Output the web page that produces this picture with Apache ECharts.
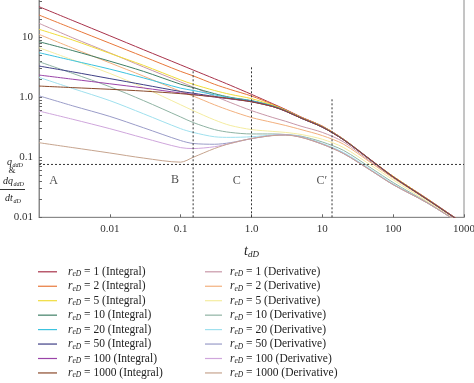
<!DOCTYPE html>
<html><head><meta charset="utf-8">
<script src="https://cdn.jsdelivr.net/npm/echarts@6/dist/echarts.min.js"></script>
<style>html,body{margin:0;padding:0;background:#fff}#c{width:474px;height:383px}</style>
</head><body><div id="c"></div>
<script>
const tGrid = [0.001, 0.003, 0.01, 0.03, 0.1, 0.15, 0.3, 0.5, 1, 2, 3, 5, 10, 20, 50, 100, 300, 1000];
const reDs = ['1', '2', '5', '10', '20', '50', '100', '1000'];
const int1    = [32.4, 19.0, 10.6, 6.2, 3.47, 2.85, 2.04, 1.59, 1.12, 0.78, 0.63, 0.47, 0.33, 0.2, 0.088, 0.048, 0.0205, 0.0078];
const int2    = [23.5, 14.0, 7.97, 4.76, 2.7, 2.28, 1.65, 1.35, 1.05, 0.76, 0.62, 0.465, 0.33, 0.2, 0.088, 0.048, 0.0205, 0.0078];
const int5    = [13.6, 9.0, 5.4, 3.4, 1.95, 1.65, 1.3, 1.12, 0.95, 0.74, 0.61, 0.46, 0.325, 0.198, 0.087, 0.048, 0.0203, 0.0077];
const int10   = [8.45, 6.0, 4.0, 2.7, 1.65, 1.45, 1.15, 1.0, 0.88, 0.72, 0.6, 0.455, 0.32, 0.197, 0.087, 0.047, 0.02, 0.0077];
const int20   = [5.54, 4.1, 2.95, 2.1, 1.42, 1.3, 1.1, 0.98, 0.87, 0.71, 0.595, 0.45, 0.32, 0.196, 0.087, 0.047, 0.02, 0.0077];
const int50   = [3.32, 2.65, 2.05, 1.62, 1.25, 1.17, 1.03, 0.95, 0.85, 0.7, 0.59, 0.45, 0.318, 0.195, 0.087, 0.047, 0.02, 0.0077];
const int100  = [2.35, 2.0, 1.68, 1.43, 1.18, 1.12, 1.01, 0.94, 0.84, 0.7, 0.59, 0.45, 0.318, 0.195, 0.087, 0.047, 0.02, 0.0077];
const int1000 = [1.54, 1.45, 1.36, 1.27, 1.15, 1.1, 1.02, 0.95, 0.84, 0.7, 0.59, 0.45, 0.318, 0.195, 0.087, 0.047, 0.02, 0.0077];
const der1    = [17.1, 9.8, 5.5, 3.2, 1.8, 1.48, 1.05, 0.82, 0.6, 0.46, 0.4, 0.33, 0.26, 0.18, 0.082, 0.046, 0.02, 0.0077];
const der2    = [11.2, 6.6, 3.75, 2.25, 1.25, 1.05, 0.75, 0.6, 0.46, 0.38, 0.34, 0.29, 0.23, 0.165, 0.079, 0.045, 0.0195, 0.0075];
const der5    = [6.71, 4.2, 2.5, 1.45, 0.75, 0.6, 0.42, 0.34, 0.29, 0.27, 0.26, 0.24, 0.2, 0.145, 0.072, 0.042, 0.0185, 0.0073];
const der10   = [3.92, 2.5, 1.5, 0.88, 0.47, 0.38, 0.29, 0.26, 0.245, 0.245, 0.24, 0.225, 0.18, 0.13, 0.065, 0.038, 0.0178, 0.0072];
const der20   = [2.15, 1.4, 0.88, 0.53, 0.3, 0.26, 0.22, 0.215, 0.22, 0.235, 0.237, 0.22, 0.17, 0.12, 0.061, 0.036, 0.0175, 0.0072];
const der50   = [1.06, 0.72, 0.48, 0.31, 0.19, 0.17, 0.165, 0.175, 0.205, 0.232, 0.236, 0.218, 0.166, 0.116, 0.059, 0.035, 0.0175, 0.0072];
const der100  = [0.59, 0.43, 0.3, 0.21, 0.145, 0.14, 0.15, 0.17, 0.205, 0.232, 0.236, 0.216, 0.165, 0.115, 0.059, 0.035, 0.0175, 0.0072];
const der1000 = [0.175, 0.145, 0.118, 0.097, 0.083, 0.1, 0.14, 0.17, 0.205, 0.23, 0.235, 0.215, 0.165, 0.115, 0.059, 0.035, 0.0175, 0.0072];
const integralSets = [int1, int2, int5, int10, int20, int50, int100, int1000];
const derivativeSets = [der1, der2, der5, der10, der20, der50, der100, der1000];
const intColors = ['#a8324a', '#e8783a', '#f0dc3a', '#3f7f66', '#3cc3df', '#3e3f86', '#9a44a8', '#8a4a2a'];
const derColors = ['#c897a8', '#f2b07e', '#f4eca0', '#8fb3a3', '#9fe0ee', '#9a9cc8', '#cfa6dc', '#c6a48e'];
// reference lines
const hLineLevel = 0.076;
const hLineT = [0.001, 1000];
const vLines = [[0.15, 2.85], [1.0, 3.24], [13.7, 0.97]];
const yMin = 0.01, yMax = 100, xMin = 0.001, xMax = 1000;
const xTickLabels = [0.01, 0.1, 1, 10, 100, 1000];
const yTickLabels = [0.01, 0.1, 1, 10, 100];
const yMinorTicks = [0.02,0.03,0.04,0.05,0.06,0.07,0.08,0.09,0.2,0.3,0.4,0.5,0.6,0.7,0.8,0.9,2,3,4,5,6,7,8,9,20,30,40,50,60,70,80,90];
const regionLabels = [['A', 0.0016, 0.04], ['B', 0.083, 0.042], ['C', 0.62, 0.04], ["C\u2032", 9.8, 0.04]];

const serif = '"Liberation Serif", "DejaVu Serif", serif';
function fmtLabel(v) { return v === 1 ? '1.0' : String(v); }

const series = [];
integralSets.forEach((arr, i) => {
  series.push({
    name: 'r_eD = ' + reDs[i] + ' (Integral)', type: 'line', showSymbol: false, smooth: 0.3,
    data: tGrid.map((t, k) => [t, arr[k]]), color: intColors[i],
    lineStyle: { width: 1, color: intColors[i] }, z: 3
  });
});
derivativeSets.forEach((arr, i) => {
  series.push({
    name: 'r_eD = ' + reDs[i] + ' (Derivative)', type: 'line', showSymbol: false, smooth: 0.3,
    data: tGrid.map((t, k) => [t, arr[k]]), color: derColors[i],
    lineStyle: { width: 1, color: derColors[i] }, z: 2
  });
});
const dashStyle = { color: '#333', width: 1, type: [2, 2] };
series.push({ name: 'hline', type: 'line', showSymbol: false, data: hLineT.map(t => [t, hLineLevel]), lineStyle: dashStyle, z: 4, silent: true });
vLines.forEach((v, i) => {
  series.push({ name: 'vline' + i, type: 'line', showSymbol: false, data: [[v[0], yMin], [v[0], v[1]]], lineStyle: dashStyle, z: 4, silent: true });
});
series.push({
  name: 'regions', type: 'scatter', symbolSize: 0, silent: true, z: 5,
  data: regionLabels.map(r => ({ value: [r[1], r[2]], label: { show: true, formatter: r[0], position: 'inside', fontFamily: serif, fontSize: 12, color: '#222' } }))
});

function legendFmt(name) {
  const m = name.match(/r_eD = (\S+) \((\w+)\)/);
  return '{r|r}{s|eD}{n| = ' + m[1] + ' (' + m[2] + ')}';
}
function makeRich(padLeft) {
  return {
    r: { fontFamily: serif, fontStyle: 'italic', fontSize: 11.5, lineHeight: 14, padding: [0, 0, 0, padLeft], color: '#222' },
    s: { fontFamily: serif, fontStyle: 'italic', fontSize: 7.5, lineHeight: 14, padding: [5, 0, 0, 0], color: '#222' },
    n: { fontFamily: serif, fontSize: 11.5, lineHeight: 14, color: '#222' }
  };
}
const legendBase = {
  orient: 'vertical', icon: 'rect', itemHeight: 1.2, itemGap: 1.45, padding: 0, height: 125,
  formatter: legendFmt, selectedMode: false
};
function txt(x, y, s, size, align) {
  return { type: 'text', x: x, y: y, silent: true, style: { text: s, fontFamily: serif, fontStyle: 'italic', fontSize: size, fill: '#222', align: align || 'left', verticalAlign: 'middle' } };
}

const option = {
  animation: false,
  grid: { left: 39, right: 10, top: -22.7, bottom: 165.7, show: true, borderColor: '#8a8a8a', borderWidth: 1, outerBoundsMode: 'none', containLabel: false },
  xAxis: {
    type: 'log', min: xMin, max: xMax, logBase: 10,
    axisLine: { show: true, lineStyle: { color: '#8a8a8a' } },
    axisTick: { show: true, inside: true, length: 3, customValues: xTickLabels, lineStyle: { color: '#666' } },
    axisLabel: { customValues: xTickLabels, formatter: fmtLabel, fontFamily: serif, fontSize: 11, color: '#333', margin: 6 },
    splitLine: { show: false },
    name: '{t|t}{s|dD}', nameLocation: 'middle', nameGap: 27,
    nameTextStyle: { rich: { t: { fontFamily: serif, fontStyle: 'italic', fontSize: 14, color: '#222' }, s: { fontFamily: serif, fontStyle: 'italic', fontSize: 9, padding: [6, 0, 0, 0], color: '#222' } } }
  },
  yAxis: {
    type: 'log', min: yMin, max: yMax, logBase: 10,
    axisLine: { show: true, lineStyle: { color: '#8a8a8a' } },
    axisTick: { show: true, inside: true, length: 3, customValues: yTickLabels.concat(yMinorTicks), lineStyle: { color: '#666' } },
    axisLabel: { customValues: yTickLabels, formatter: fmtLabel, fontFamily: serif, fontSize: 11, color: '#333', margin: 6 },
    splitLine: { show: false }
  },
  legend: [
    Object.assign({ left: 38, top: 265.3, itemWidth: 19, textStyle: { rich: makeRich(6) }, data: reDs.map(r => 'r_eD = ' + r + ' (Integral)') }, legendBase),
    Object.assign({ left: 205, top: 265.3, itemWidth: 17, textStyle: { rich: makeRich(3) }, data: reDs.map(r => 'r_eD = ' + r + ' (Derivative)') }, legendBase)
  ],
  graphic: [
    txt(7, 162.5, 'q', 10), txt(12.5, 165.5, 'ddD', 6),
    { type: 'text', x: 12, y: 171, silent: true, style: { text: '&', fontFamily: serif, fontSize: 9, fill: '#222', align: 'center', verticalAlign: 'middle' } },
    txt(3, 181, 'dq', 10), txt(13.5, 184, 'ddD', 6),
    { type: 'line', silent: true, shape: { x1: 0, y1: 189.5, x2: 25, y2: 189.5 }, style: { stroke: '#333', lineWidth: 1 } },
    txt(5, 198, 'dt', 10), txt(13.5, 201, 'dD', 6)
  ],
  series: series
};
const chart = echarts.init(document.getElementById('c'), null, { renderer: 'canvas' });
chart.setOption(option);
</script>
</body></html>
